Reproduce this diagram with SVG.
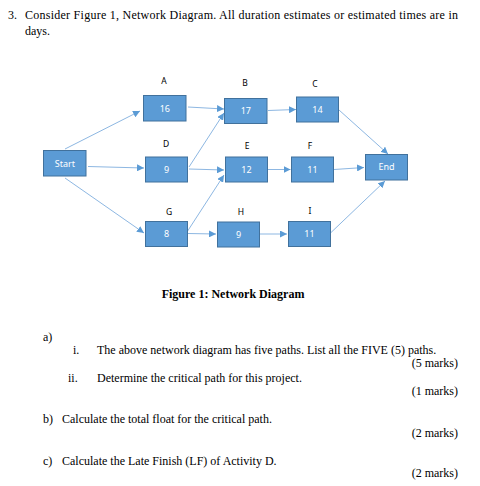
<svg xmlns="http://www.w3.org/2000/svg" width="480" height="486" viewBox="0 0 480 486">
<defs>
<marker id="ah" viewBox="0 0 10 10" refX="10" refY="5" markerWidth="7" markerHeight="7" markerUnits="userSpaceOnUse" orient="auto">
<path d="M0,0 L10,5 L0,10 Z" fill="#5b9bd5"/>
</marker>
<style>
.t{font-family:"Liberation Serif","Times New Roman",serif;font-size:12px;fill:#000}
.b{font-weight:bold}
.box{fill:#5b9bd5;stroke:#41719c;stroke-width:1}
.num{font-family:"Noto Sans","Liberation Sans",sans-serif;font-size:9px;fill:#fff;text-anchor:middle}
.lbl{font-family:"Noto Sans","Liberation Sans",sans-serif;font-size:8.5px;fill:#000;text-anchor:middle}
.c{stroke:#8db7e2;stroke-width:1;fill:none;marker-end:url(#ah)}
</style>
</defs>
<rect width="480" height="486" fill="#fff"/>
<text class="t" x="8" y="19">3.</text>
<text class="t" x="25" y="19" textLength="433" lengthAdjust="spacing">Consider Figure 1, Network Diagram.  All duration estimates or estimated times are in</text>
<text class="t" x="25" y="35">days.</text>

<g id="connectors">
<line class="c" x1="65" y1="149" x2="140" y2="111"/>
<line class="c" x1="88" y1="166.5" x2="144" y2="168"/>
<line class="c" x1="65" y1="178" x2="144" y2="233"/>
<line class="c" x1="188" y1="107" x2="224" y2="109"/>
<line class="c" x1="189" y1="167" x2="224" y2="113"/>
<line class="c" x1="189" y1="169" x2="224" y2="170"/>
<line class="c" x1="187" y1="232" x2="224" y2="175"/>
<line class="c" x1="188" y1="233.5" x2="216" y2="234"/>
<line class="c" x1="260" y1="234" x2="287" y2="234"/>
<line class="c" x1="331" y1="232.5" x2="385" y2="181"/>
<line class="c" x1="268" y1="110.5" x2="296" y2="109.5"/>
<line class="c" x1="339" y1="110" x2="388" y2="154"/>
<line class="c" x1="268" y1="169.5" x2="290.5" y2="169.5"/>
<line class="c" x1="334" y1="169.5" x2="364" y2="167.5"/>
</g>

<g id="start"><rect class="box" x="43.5" y="150.5" width="42.5" height="25.5"/><text class="num" x="64.8" y="166.5">Start</text></g>
<g id="A"><text class="lbl" x="164" y="84">A</text><rect class="box" x="143.5" y="95.5" width="42.5" height="25.5"/><text class="num" x="164.8" y="111.5">16</text></g>
<g id="D"><text class="lbl" x="166" y="147">D</text><rect class="box" x="145.5" y="157" width="42" height="25"/><text class="num" x="166.5" y="172.5">9</text></g>
<g id="G"><text class="lbl" x="169" y="215">G</text><rect class="box" x="145.5" y="221.5" width="42" height="25"/><text class="num" x="166.5" y="237">8</text></g>
<g id="B"><text class="lbl" x="245" y="86">B</text><rect class="box" x="224.5" y="98.5" width="42.5" height="25"/><text class="num" x="245.8" y="114">17</text></g>
<g id="E"><text class="lbl" x="247" y="149">E</text><rect class="box" x="225.5" y="157" width="42" height="25"/><text class="num" x="246.5" y="172.5">12</text></g>
<g id="H"><text class="lbl" x="241" y="215">H</text><rect class="box" x="217.5" y="222" width="42" height="25"/><text class="num" x="238.5" y="237.5">9</text></g>
<g id="C"><text class="lbl" x="315" y="87">C</text><rect class="box" x="296.5" y="97" width="42" height="25"/><text class="num" x="317.5" y="112.5">14</text></g>
<g id="F"><text class="lbl" x="310" y="149">F</text><rect class="box" x="291.5" y="157" width="42" height="25"/><text class="num" x="312.5" y="172.5">11</text></g>
<g id="I"><text class="lbl" x="310" y="214">I</text><rect class="box" x="288.5" y="221.5" width="42" height="25"/><text class="num" x="309.5" y="237">11</text></g>
<g id="end"><rect class="box" x="365.5" y="154.5" width="42" height="25.5"/><text class="num" x="386.5" y="170">End</text></g>

<text class="t b" x="233" y="298" text-anchor="middle">Figure 1: Network Diagram</text>

<text class="t" x="43" y="341">a)</text>
<text class="t" x="73" y="354">i.</text>
<text class="t" x="97" y="354">The above network diagram has five paths. List all the FIVE (5) paths.</text>
<text class="t" x="458" y="367" text-anchor="end">(5 marks)</text>
<text class="t" x="68" y="381.5">ii.</text>
<text class="t" x="97" y="381.5">Determine the critical path for this project.</text>
<text class="t" x="458" y="395" text-anchor="end">(1 marks)</text>
<text class="t" x="43" y="422.5">b)</text>
<text class="t" x="62" y="422.5">Calculate the total float for the critical path.</text>
<text class="t" x="458" y="436.5" text-anchor="end">(2 marks)</text>
<text class="t" x="43" y="465">c)</text>
<text class="t" x="62" y="465">Calculate the Late Finish (LF) of Activity D.</text>
<text class="t" x="458" y="477" text-anchor="end">(2 marks)</text>
</svg>
